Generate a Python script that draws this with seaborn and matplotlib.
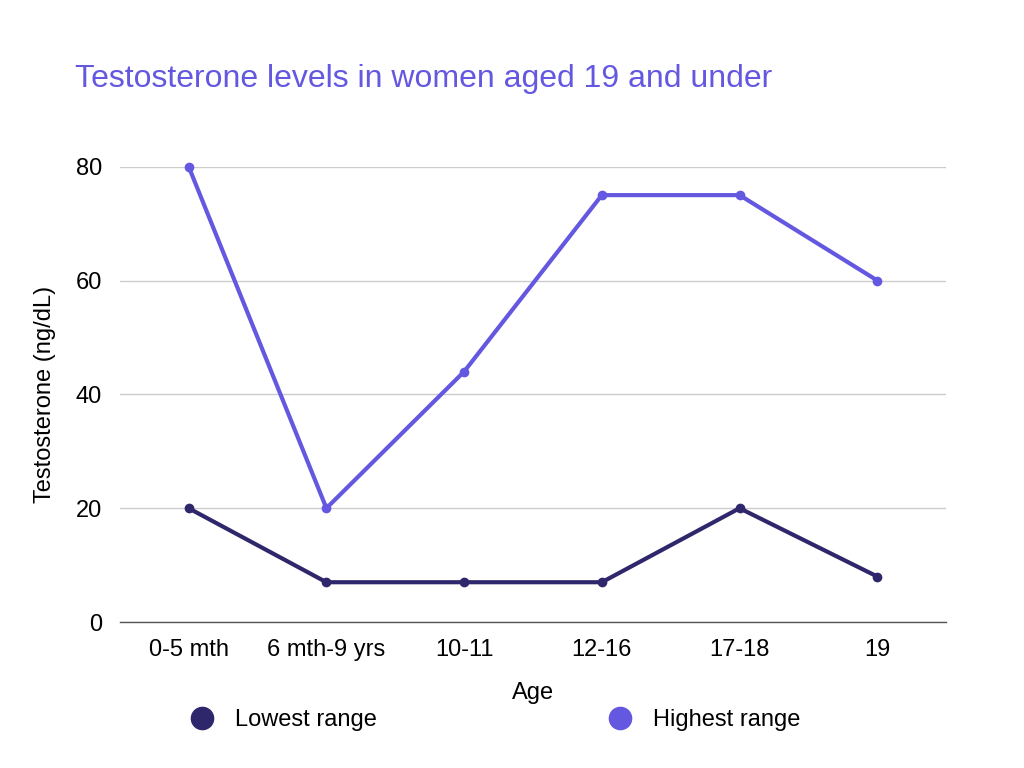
import matplotlib
matplotlib.use("Agg")
import matplotlib.pyplot as plt
from matplotlib.lines import Line2D
import pandas as pd
import seaborn as sns

ages = ["0-5 mth", "6 mth-9 yrs", "10-11", "12-16", "17-18", "19"]
lowest = [20, 7, 7, 7, 20, 8]
highest = [80, 20, 44, 75, 75, 60]
series_names = ["Lowest range", "Highest range"]
colors = ["#2f276b", "#6457e0"]

df = pd.DataFrame({
    "Age": ages * 2,
    "value": lowest + highest,
    "series": [series_names[0]] * len(ages) + [series_names[1]] * len(ages),
})

sns.set_theme(style="white")
plt.rcParams["font.family"] = ["Liberation Sans", "DejaVu Sans"]
plt.rcParams["text.color"] = "black"
plt.rcParams["axes.labelcolor"] = "black"

fig = plt.figure(figsize=(10.24, 7.68), dpi=100)
ax = fig.add_axes([0.117, 0.19, 0.807, 0.593])

sns.lineplot(data=df, x="Age", y="value", hue="series", palette=colors,
             marker="o", markersize=7, markeredgewidth=0, linewidth=3,
             sort=False, legend=False, ax=ax, clip_on=False)

ax.set_xlim(-0.5, len(ages) - 0.5)
ax.set_ylim(0, 80)
ax.set_yticks([0, 20, 40, 60, 80])
ax.yaxis.grid(True, color="#cccccc", linewidth=1)
ax.set_axisbelow(True)
for s in ["top", "right", "left"]:
    ax.spines[s].set_visible(False)
ax.spines["bottom"].set_color("#555555")
ax.spines["bottom"].set_linewidth(1)
ax.tick_params(axis="both", length=0, labelsize=17, colors="black")
ax.tick_params(axis="x", pad=12)
ax.tick_params(axis="y", pad=13)
ax.set_xlabel("Age", fontsize=17, labelpad=15)
ax.set_ylabel("Testosterone (ng/dL)", fontsize=17, labelpad=14)

fig.text(0.073, 0.897, "Testosterone levels in women aged 19 and under",
         fontsize=23, color="#6457e0", va="center", ha="left")

handles = [Line2D([], [], marker="o", color=c, linestyle="none", markersize=16)
           for c in colors]
fig.legend(handles, series_names, loc="center", bbox_to_anchor=(0.478, 0.062),
           ncol=2, frameon=False, fontsize=17, columnspacing=9.3,
           handletextpad=0.4)

fig.savefig("out.png", dpi=100)
